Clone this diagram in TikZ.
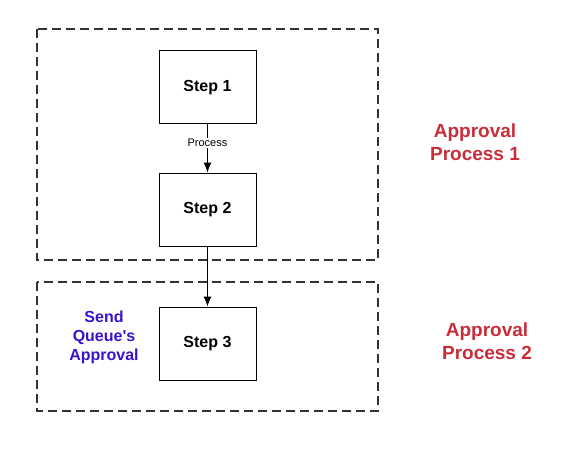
\documentclass[tikz,border=0pt]{standalone}
\usepackage{fontspec}
\setmainfont{Liberation Sans}
\usetikzlibrary{arrows.meta}
\definecolor{apred}{HTML}{C92D39}
\definecolor{apblue}{HTML}{3A12CC}
\definecolor{dashgray}{HTML}{333333}
\tikzset{
  stepbox/.style={draw=black, line width=1pt, minimum width=97pt, minimum height=73pt, inner sep=0pt, font=\bfseries\fontsize{16}{19}\selectfont},
  groupbox/.style={draw=dashgray, line width=1.2pt, dash pattern=on 9pt off 5pt},
  redlabel/.style={text=apred, align=center, font=\bfseries\fontsize{19}{23}\selectfont},
  bluelabel/.style={text=apblue, align=center, font=\bfseries\fontsize{16}{19}\selectfont},
  flow/.style={draw=black, line width=1pt, -{Latex[length=10pt,width=8pt]}},
  edgelabel/.style={fill=white, inner sep=1pt, font=\fontsize{11}{13}\selectfont},
}
\begin{document}
\begin{tikzpicture}[x=1pt,y=-1pt]
\useasboundingbox (0,0) rectangle (563,452);
\draw[groupbox] (37,29) rectangle (378,260);
\draw[groupbox] (37,282) rectangle (378,411);
\node[stepbox] (s1) at (207.5,87.5) {Step 1};
\node[stepbox] (s2) at (207.5,209.5) {Step 2};
\node[stepbox] (s3) at (207.5,343.5) {Step 3};
\draw[flow] (s1) -- (s2);
\node[edgelabel] (lp) at (207.5,143) {Process};
\draw[flow] (s2) -- (s3);
\node[redlabel] (ap1) at (475,142) {Approval\\Process 1};
\node[redlabel] (ap2) at (487,341) {Approval\\Process 2};
\node[bluelabel] (sq) at (104,337) {Send\\Queue\textquotesingle s\\Approval};
\end{tikzpicture}
\end{document}
